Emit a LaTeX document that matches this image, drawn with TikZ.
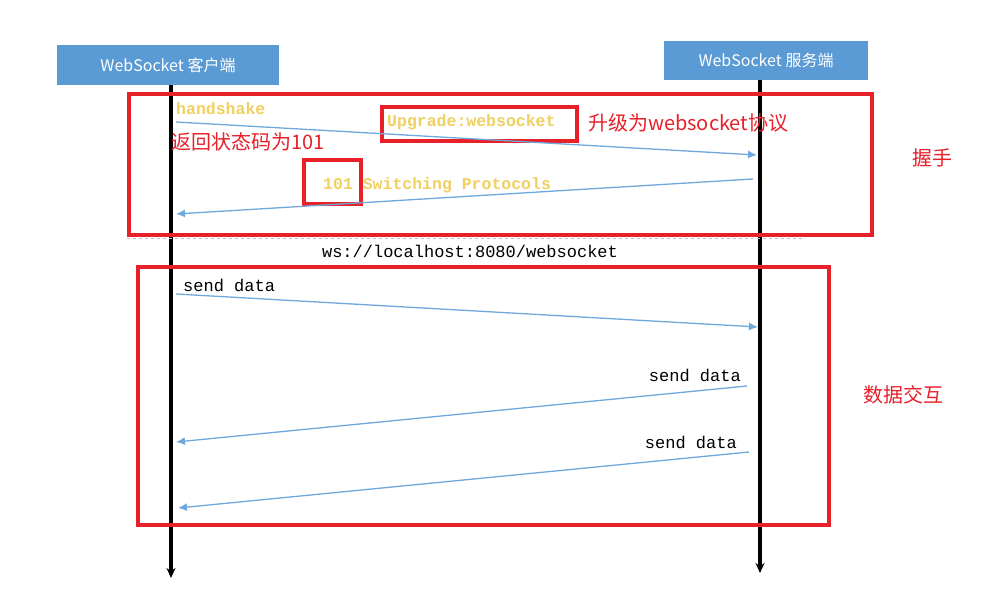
\documentclass[tikz,border=0pt]{standalone}
\usepackage{fontspec}
\usetikzlibrary{arrows.meta}
\setmonofont{Liberation Mono}
\newfontfamily\cjk{Noto Sans CJK SC}
\begin{document}
\begin{tikzpicture}[x=1pt,y=-1pt,
  actor/.style={draw=none,fill=boxblue,text=white,font=\cjk\fontsize{16}{19}\selectfont,inner sep=0},
  life/.style={line width=3.2pt,-{Stealth[length=10pt,width=9pt]}},
  redbox/.style={draw=redc,line width=3.5pt},
  msg/.style={draw=arrowblue,line width=1.3pt,-{Latex[length=9pt,width=8pt]}},
  ylab/.style={text=labyellow,font=\ttfamily\bfseries\fontsize{16.5}{19}\selectfont,inner sep=0},
  blab/.style={text=black,font=\ttfamily\fontsize{17}{19}\selectfont,inner sep=0},
  rlab/.style={text=redc,font=\cjk\fontsize{20}{24}\selectfont,inner sep=0}]
\definecolor{boxblue}{HTML}{5B9BD5}
\definecolor{redc}{HTML}{E8202A}
\definecolor{arrowblue}{HTML}{6FA8DC}
\definecolor{labyellow}{HTML}{F0D060}
\useasboundingbox (0,0) rectangle (998,609);
\fill[white] (0,0) rectangle (998,609);
% actors
\node[actor,minimum width=222pt,minimum height=40pt] (cli) at (168,65) {WebSocket 客户端};
\node[actor,minimum width=204pt,minimum height=39pt] (srv) at (766,60.5) {WebSocket 服务端};
\coordinate (cb) at (171,85); \coordinate (ce) at (171,578);
\coordinate (sb) at (760,80); \coordinate (se) at (760,573);
\draw[life] (cb) -- (ce);
\draw[life] (sb) -- (se);
% red boxes
\node[redbox,minimum width=743pt,minimum height=141pt,inner sep=0] (hs) at (500.5,164.5) {};
\node[redbox,minimum width=691pt,minimum height=258pt,inner sep=0] (dx) at (483.5,396) {};
\node[redbox,minimum width=195pt,minimum height=34pt,inner sep=0] (ub) at (479.5,124) {};
\node[redbox,minimum width=57pt,minimum height=44pt,inner sep=0] (cb2) at (332.5,182) {};
% dashed separator
\coordinate (d1) at (127,238); \coordinate (d2) at (805,238);
\draw[gray!50,dashed,line width=0.8pt] (d1) -- (d2);
% messages
\coordinate (m1a) at (176,122); \coordinate (m1b) at (757,155);
\coordinate (m2a) at (753,179); \coordinate (m2b) at (176,214);
\coordinate (m3a) at (176,294); \coordinate (m3b) at (758,327);
\coordinate (m4a) at (747,386); \coordinate (m4b) at (176,442);
\coordinate (m5a) at (749,452); \coordinate (m5b) at (178,508);
\draw[msg] (m1a) -- (m1b);
\draw[msg] (m2a) -- (m2b);
\draw[msg] (m3a) -- (m3b);
\draw[msg] (m4a) -- (m4b);
\draw[msg] (m5a) -- (m5b);
% labels
\node[ylab,anchor=west] (t1) at (176,109) {handshake};
\node[ylab,anchor=west] (t2) at (387,122) {Upgrade:websocket};
\node[ylab,anchor=west] (t3) at (323,185) {101 Switching Protocols};
\node[blab] (t4) at (470,251) {ws://localhost:8080/websocket};
\node[blab,anchor=west] (t5) at (183,285) {send data};
\node[blab,anchor=east] (t6) at (741,375) {send data};
\node[blab,anchor=east] (t7) at (737,442) {send data};
\node[rlab,anchor=west] (r1) at (588,123) {升级为websocket协议};
\node[rlab,anchor=west] (r2) at (171,142) {返回状态码为101};
\node[rlab,anchor=west] (r3) at (912,158) {握手};
\node[rlab,anchor=west] (r4) at (863,395) {数据交互};
\end{tikzpicture}
\end{document}
